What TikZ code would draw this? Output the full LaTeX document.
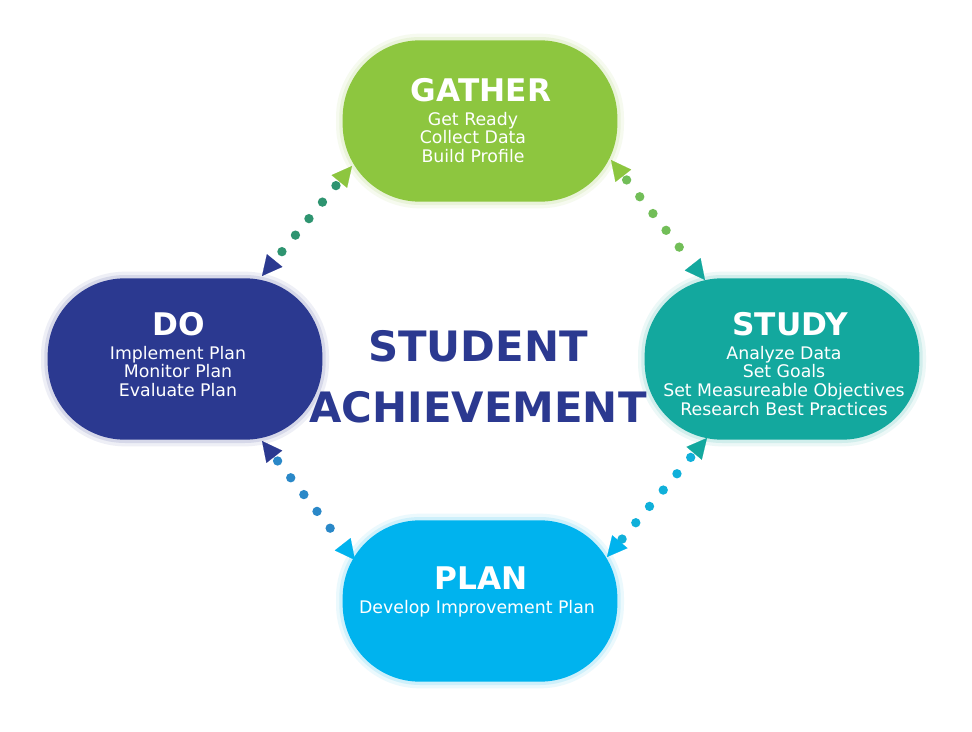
\documentclass[tikz,border=0pt]{standalone}
\usepackage{fontspec}
\setmainfont{DejaVu Sans}
\usetikzlibrary{arrows.meta,calc}
\definecolor{cg}{HTML}{8DC63F}
\definecolor{cs}{HTML}{13A89E}
\definecolor{cd}{HTML}{2B3990}
\definecolor{cp}{HTML}{00B3EE}
\definecolor{dgd}{HTML}{2E9470}
\definecolor{dgs}{HTML}{72BE58}
\definecolor{ddp}{HTML}{2A88C8}
\definecolor{dsp}{HTML}{10B0DA}
\tikzset{
 x=0.75pt,y=-0.75pt,
 stage/.style={minimum width=206pt,minimum height=121pt,rounded corners=58pt,inner sep=0pt},
 glow/.style={draw=#1,draw opacity=0.08,line width=10pt},
 glowb/.style={draw=#1,draw opacity=0.12,line width=5pt},
 ttl/.style={text=white,font=\bfseries\fontsize{23.4}{26}\selectfont,inner sep=0pt},
 sub/.style={text=white,align=center,font=\fontsize{13}{13.9}\selectfont,inner sep=0pt,anchor=north},
 dots/.style={line width=7pt,dash pattern=on 0pt off 16pt,line cap=round,shorten <=19pt,shorten >=16pt},
 tip/.style={-{Triangle[length=15pt,width=15pt]},color=#1,line width=0.1pt}
}
\begin{document}
\begin{tikzpicture}
\useasboundingbox (0,0) rectangle (972,732);
\fill[white] (0,0) rectangle (972,732);
\foreach \x/\y/\c in {480/121/cg,782/359/cs,185/359/cd,480/601/cp}{
  \node[stage,glow=\c] at (\x,\y) {};
  \node[stage,glowb=\c] at (\x,\y) {};
}
\node[stage,fill=cg] (g) at (480,121) {};
\node[stage,fill=cs] (s) at (782,359) {};
\node[stage,fill=cd] (d) at (185,359) {};
\node[stage,fill=cp] (p) at (480,601) {};
\node[ttl] (gt) at (481,90) {GATHER};
\node[sub] (gx) at (473,112) {Get Ready\\Collect Data\\Build Profile};
\node[ttl] (st) at (790,324) {STUDY};
\node[sub] (sx) at (784,346) {Analyze Data\\Set Goals\\Set Measureable Objectives\\Research Best Practices};
\node[ttl] (dt) at (179,324) {DO};
\node[sub] (dx) at (178,346) {Implement Plan\\Monitor Plan\\Evaluate Plan};
\node[ttl] (pt) at (481,578) {PLAN};
\node[sub] (px) at (477,600) {Develop Improvement Plan};
\node[text=cd,font=\bfseries\fontsize{31.4}{33}\selectfont,align=center] (c) at (478,377) {STUDENT\\[13pt]ACHIEVEMENT};
\coordinate (gdA) at (352,166); \coordinate (gdB) at (262,276);
\coordinate (gsA) at (611,160); \coordinate (gsB) at (705,280);
\coordinate (dpA) at (262,441); \coordinate (dpB) at (355,560);
\coordinate (spA) at (707,438); \coordinate (spB) at (607,557);
\draw[dots,color=dgd] (gdA) -- (gdB);
\draw[tip=cg] ($(gdA)!0.5pt!(gdB)$) -- (gdA);
\draw[tip=cd] ($(gdB)!0.5pt!(gdA)$) -- (gdB);
\draw[dots,color=dgs] (gsA) -- (gsB);
\draw[tip=cg] ($(gsA)!0.5pt!(gsB)$) -- (gsA);
\draw[tip=cs] ($(gsB)!0.5pt!(gsA)$) -- (gsB);
\draw[dots,color=ddp] (dpA) -- (dpB);
\draw[tip=cd] ($(dpA)!0.5pt!(dpB)$) -- (dpA);
\draw[tip=cp] ($(dpB)!0.5pt!(dpA)$) -- (dpB);
\draw[dots,color=dsp] (spA) -- (spB);
\draw[tip=cs] ($(spA)!0.5pt!(spB)$) -- (spA);
\draw[tip=cp] ($(spB)!0.5pt!(spA)$) -- (spB);
\end{tikzpicture}
\end{document}
